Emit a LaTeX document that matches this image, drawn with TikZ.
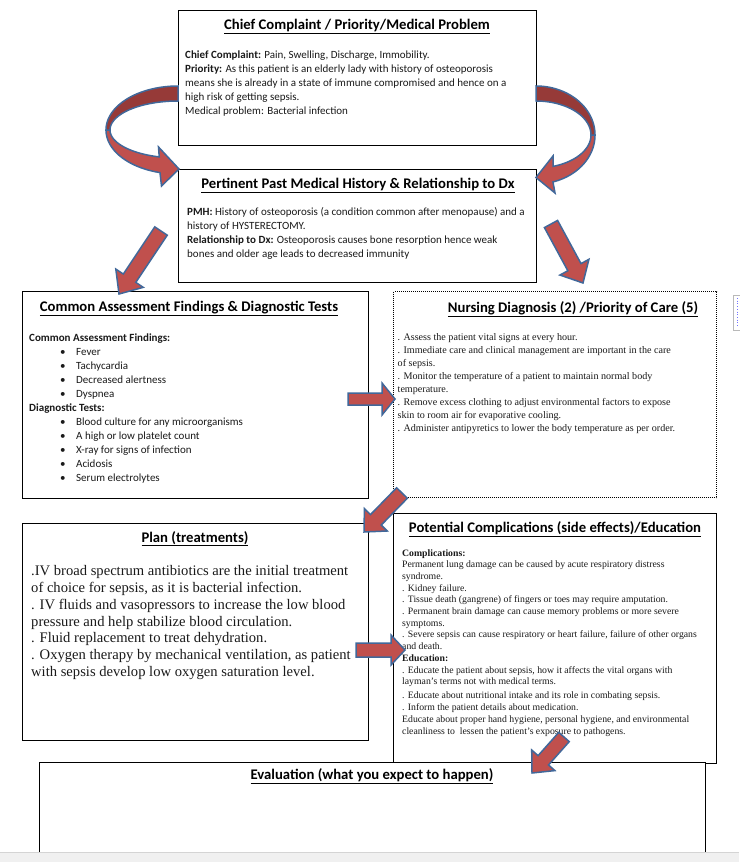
\documentclass[tikz,border=0pt]{standalone}
\usepackage{fontspec}
\setmainfont{Liberation Serif}
\newfontfamily\calfont{Carlito}
\usetikzlibrary{calc}
\definecolor{arrfill}{HTML}{C0504D}
\definecolor{arrdark}{HTML}{963A38}
\definecolor{arrline}{HTML}{41689A}
\definecolor{bartop}{HTML}{D4D4D4}
\definecolor{barfill}{HTML}{F0F0F0}
\definecolor{txt}{HTML}{1A1A1A}
\tikzset{
  box/.style={draw=black, line width=1.1pt, fill=white, inner sep=0pt, anchor=north west},
  dotbox/.style={box, dash pattern=on 1pt off 1pt, line width=1pt},
  headtext/.style={font={\calfont\bfseries\fontsize{14.7}{17}\selectfont}, anchor=base, inner sep=0pt, text=black},
  calbody/.style={font={\calfont\fontsize{11}{14.2}\selectfont}, anchor=base west, align=left, inner sep=0pt, text=txt},
  calbodyb/.style={calbody, font={\calfont\fontsize{11}{14}\selectfont}},
  serbodyA/.style={font={\fontsize{10.1}{13}\selectfont}, anchor=base west, align=left, inner sep=0pt, text=txt},
  serbodyB/.style={font={\fontsize{14.6}{16.8}\selectfont}, anchor=base west, align=left, inner sep=0pt, text=txt},
  serbodyC/.style={font={\fontsize{9.75}{11.7}\selectfont}, anchor=base west, align=left, inner sep=0pt, text=txt},
  blockarrow/.style={fill=arrfill, draw=arrline, line width=1.5pt, line join=miter},
  curvearrow/.style={draw=arrline, line width=1.5pt, line join=miter},
}
\newcommand\blockarrow[6]{%
  \coordinate (#1-h) at ($(#3)!#6!(#2)$);
  \draw[blockarrow] ($(#2)!#4!90:(#3)$) -- ($(#1-h)!#4!-90:(#2)$) -- ($(#1-h)!#5!-90:(#2)$)
    -- (#3) -- ($(#1-h)!#5!90:(#2)$) -- ($(#1-h)!#4!90:(#2)$) -- ($(#2)!#4!-90:(#3)$) -- cycle;
}
\newcommand\bul{\hspace*{31pt}\makebox[16pt][l]{\textbullet}}
\begin{document}
\begin{tikzpicture}[x=1pt,y=-1pt]
\useasboundingbox (0,0) rectangle (739,862);
\fill[white] (0,0) rectangle (739,862);

% ---------- boxes ----------
\node[box, minimum width=358pt, minimum height=135pt] (cc) at (178,10) {};
\node[box, minimum width=358pt, minimum height=113pt] (pmh) at (178,169) {};
\node[box, minimum width=346pt, minimum height=207pt] (caf) at (22,291) {};
\node[dotbox, minimum width=323pt, minimum height=206pt] (nd) at (393,291) {};
\node[box, minimum width=346pt, minimum height=217pt] (plan) at (22,523) {};
\node[box, minimum width=323pt, minimum height=250pt] (pc) at (393,513) {};
\node[box, minimum width=666pt, minimum height=110pt] (ev) at (39,762) {};

% small side artefact
\draw[gray!55, line width=0.6pt] (745,295) -- (733,295) -- (733,330) -- (745,330);
\draw[blue!55, line width=0.7pt, dotted] (737,298) -- (737,327);

% ---------- headings ----------
\node[headtext] (h1) at (357,29.5) {\underline{Chief Complaint / Priority/Medical Problem}};
\node[headtext] (h2) at (358,188) {\underline{Pertinent Past Medical History \& Relationship to Dx}};
\node[headtext] (h3) at (189,311) {\underline{Common Assessment Findings \& Diagnostic Tests}};
\node[headtext] (h4) at (573,312) {\underline{Nursing Diagnosis (2) /Priority of Care (5)}};
\node[headtext] (h5) at (195,542) {\underline{Plan (treatments)}};
\node[headtext] (h6) at (555,532) {\underline{Potential Complications (side effects)/Education}};
\node[headtext] (h7) at (372,779) {\underline{Evaluation (what you expect to happen)}};

% ---------- body texts (anchored at the baseline of their last line) ----------
\node[calbody] (t1) at (185,114.8) {\textbf{Chief Complaint:} Pain, Swelling, Discharge, Immobility.\\
\textbf{Priority:} As this patient is an elderly lady with history of osteoporosis\\
means she is already in a state of immune compromised and hence on a\\
high risk of getting sepsis.\\
Medical problem: Bacterial infection};

\node[calbodyb] (t2) at (187,257.5) {\textbf{PMH:} History of osteoporosis (a condition common after menopause) and a\\
history of HYSTERECTOMY.\\
\textbf{Relationship to Dx:} Osteoporosis causes bone resorption hence weak\\
bones and older age leads to decreased immunity};

\node[calbodyb] (t3) at (29,481.5) {\textbf{Common Assessment Findings:}\\
\bul Fever\\
\bul Tachycardia\\
\bul Decreased alertness\\
\bul Dyspnea\\
\textbf{Diagnostic Tests:}\\
\bul Blood culture for any microorganisms\\
\bul A high or low platelet count\\
\bul X-ray for signs of infection\\
\bul Acidosis\\
\bul Serum electrolytes};

\node[serbodyA] (t4) at (397.5,431.5) {. Assess the patient vital signs at every hour.\\
. Immediate care and clinical management are important in the care\\
of sepsis.\\
. Monitor the temperature of a patient to maintain normal body\\
temperature.\\
. Remove excess clothing to adjust environmental factors to expose\\
skin to room air for evaporative cooling.\\
. Administer antipyretics to lower the body temperature as per order.};

\node[serbodyB] (t5) at (31,676.5) {.IV broad spectrum antibiotics are the initial treatment\\
of choice for sepsis, as it is bacterial infection.\\
. IV fluids and vasopressors to increase the low blood\\
pressure and help stabilize blood circulation.\\
. Fluid replacement to treat dehydration.\\
. Oxygen therapy by mechanical ventilation, as patient\\
with sepsis develop low oxygen saturation level.};

\node[serbodyC] (t6) at (402,734) {\textbf{Complications:}\\
Permanent lung damage can be caused by acute respiratory distress\\
syndrome.\\
. Kidney failure.\\
. Tissue death (gangrene) of fingers or toes may require amputation.\\
. Permanent brain damage can cause memory problems or more severe\\
symptoms.\\
. Severe sepsis can cause respiratory or heart failure, failure of other organs\\
and death.\\
\textbf{Education:}\\
. Educate the patient about sepsis, how it affects the vital organs with\\
layman's terms not with medical terms.\\[2.5pt]
. Educate about nutritional intake and its role in combating sepsis.\\
. Inform the patient details about medication.\\
Educate about proper hand hygiene, personal hygiene, and environmental\\
cleanliness to\ \ lessen the patient's exposure to pathogens.};

% ---------- curved arrows ----------
% left (from Chief Complaint box round to PMH box)
\draw[curvearrow, fill=arrfill]
  plot[domain=180:104.5, samples=40] ({178+72*cos(\x)},{130+44*sin(\x)})
  -- (161.5,186) -- (179,169) -- (158.5,147)
  -- plot[domain=106:180, samples=40] ({178+68*cos(\x)},{130+28*sin(\x)}) -- cycle;
\draw[curvearrow, fill=arrdark]
  plot[domain=270:180, samples=40] ({178+72*cos(\x)},{130+44*sin(\x)})
  -- plot[domain=180:270, samples=40] ({178+68*cos(\x)},{130+29*sin(\x)}) -- cycle;
% right
\draw[curvearrow, fill=arrfill]
  plot[domain=0:73.3, samples=40] ({536+59*cos(\x)},{135+49*sin(\x)})
  -- (555,193) -- (536,177.5) -- (553,156)
  -- plot[domain=72:0, samples=40] ({536+55*cos(\x)},{135+33*sin(\x)}) -- cycle;
\draw[curvearrow, fill=arrdark]
  plot[domain=-90:0, samples=40] ({536+59*cos(\x)},{135+49*sin(\x)})
  -- plot[domain=0:-90, samples=40] ({536+55*cos(\x)},{135+34*sin(\x)}) -- cycle;

% ---------- straight block arrows ----------
\coordinate (a1t) at (161,231);  \coordinate (a1h) at (119,294);
\coordinate (a2t) at (551,224);  \coordinate (a2h) at (583,283);
\coordinate (a3t) at (348,399);  \coordinate (a3h) at (395,399);
\coordinate (a4t) at (402,493);  \coordinate (a4h) at (364,532);
\coordinate (a5t) at (356,650);  \coordinate (a5h) at (405,650);
\coordinate (a6t) at (564,737);  \coordinate (a6h) at (532,773);
\blockarrow{A1}{a1t}{a1h}{7.5pt}{16.5pt}{19pt}
\blockarrow{A2}{a2t}{a2h}{7.5pt}{16.5pt}{18pt}
\blockarrow{A3}{a3t}{a3h}{6pt}{16pt}{13pt}
\blockarrow{A4}{a4t}{a4h}{7.5pt}{16pt}{17pt}
\blockarrow{A5}{a5t}{a5h}{7pt}{15pt}{14pt}
\blockarrow{A6}{a6t}{a6h}{7pt}{15.5pt}{17pt}

% ---------- bottom grey bar ----------
\fill[barfill] (0,852) rectangle (739,862);
\draw[bartop, line width=0.8pt] (0,852) -- (739,852);
\end{tikzpicture}
\end{document}
